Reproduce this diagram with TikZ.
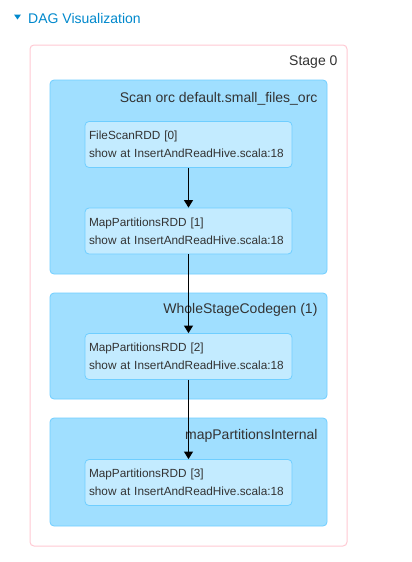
\documentclass[tikz,border=0pt]{standalone}
\usepackage{fontspec}
\setmainfont{Liberation Sans}
\usetikzlibrary{arrows.meta}
\definecolor{linkblue}{HTML}{0088CC}
\definecolor{stagepink}{HTML}{FFC9D3}
\definecolor{clusterfill}{HTML}{A0DFFF}
\definecolor{clusterline}{HTML}{6FCEFF}
\definecolor{rddfill}{HTML}{C3EBFF}
\definecolor{textgray}{HTML}{333333}

\tikzset{
    stagebox/.style={draw=stagepink, fill=white, rounded corners=4pt, line width=1pt},
    clusterbox/.style={draw=clusterline, fill=clusterfill, rounded corners=4pt, line width=0.8pt},
    rddbox/.style={draw=clusterline, fill=rddfill, rounded corners=4pt, line width=0.8pt,
        minimum height=46pt, text width=199pt, inner xsep=4pt, align=left,
        font=\fontsize{11.8}{18}\selectfont, text=textgray},
    clusterlabel/.style={anchor=east, font=\fontsize{14}{16}\selectfont, text=textgray},
    dagarrow/.style={-{Triangle[length=7.5pt,width=9pt]}, black, line width=1pt}
}

\begin{document}
\begin{tikzpicture}[x=1pt, y=-1pt]
\useasboundingbox (0,0) rectangle (412,562);

% --- HEADER ---
\fill[linkblue] (14,14.5) -- (21,14.5) -- (17.5,19.5) -- cycle;
\node[anchor=west, inner sep=0pt, text=linkblue, font=\fontsize{14}{16}\selectfont]
    (title) at (28,18) {DAG Visualization};

% --- STAGE ---
\draw[stagebox] (30,45) rectangle (347,546);
\node[clusterlabel] (stage) at (341,62) {Stage 0};

% --- CLUSTERS ---
\draw[clusterbox] (50,80) rectangle (327,274);
\node[clusterlabel] (scan) at (321,99) {Scan orc default.small\_files\_orc};

\draw[clusterbox] (50,293) rectangle (327,399);
\node[clusterlabel] (codegen) at (321,310) {WholeStageCodegen (1)};

\draw[clusterbox] (50,418) rectangle (327,526);
\node[clusterlabel] (internal) at (321,436) {mapPartitionsInternal};

% --- RDDS ---
\node[rddbox] (rdd0) at (188.5,144.5)
    {FileScanRDD [0]\\show at InsertAndReadHive.scala:18};
\node[rddbox] (rdd1) at (188.5,231)
    {MapPartitionsRDD [1]\\show at InsertAndReadHive.scala:18};
\node[rddbox] (rdd2) at (188.5,356.5)
    {MapPartitionsRDD [2]\\show at InsertAndReadHive.scala:18};
\node[rddbox] (rdd3) at (188.5,482.5)
    {MapPartitionsRDD [3]\\show at InsertAndReadHive.scala:18};

% --- EDGES ---
\draw[dagarrow] (rdd0) -- (rdd1);
\draw[dagarrow] (rdd1) -- (rdd2);
\draw[dagarrow] (rdd2) -- (rdd3);

\end{tikzpicture}
\end{document}
